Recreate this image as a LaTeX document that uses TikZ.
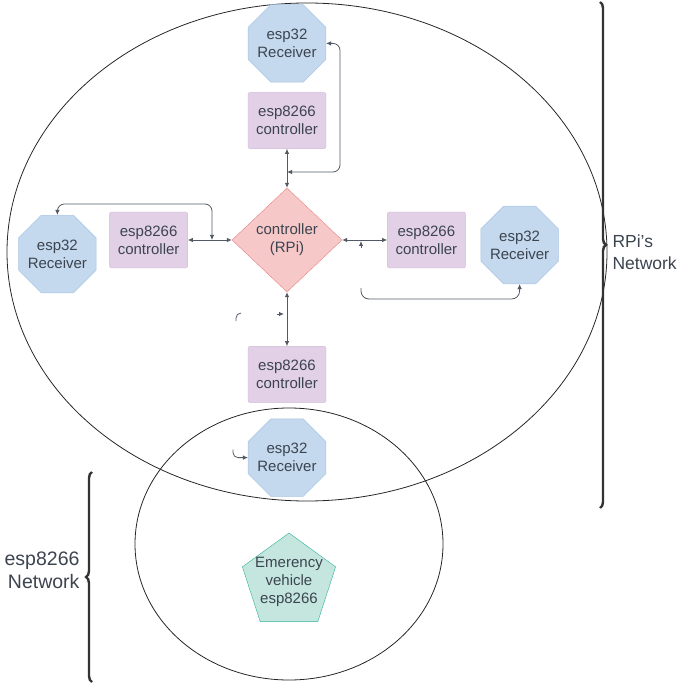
\documentclass[tikz,border=0pt]{standalone}
\usepackage{fontspec}
\setmainfont{Liberation Sans}
\usetikzlibrary{positioning,arrows.meta,shapes.geometric,decorations.pathreplacing}
\definecolor{RecFill}{RGB}{196,216,238}
\definecolor{RecLine}{RGB}{168,196,228}
\definecolor{CtlFill}{RGB}{226,208,230}
\definecolor{CtlLine}{RGB}{206,184,216}
\definecolor{HubFill}{RGB}{246,200,200}
\definecolor{HubLine}{RGB}{236,128,128}
\definecolor{EvFill}{RGB}{196,230,222}
\definecolor{EvLine}{RGB}{46,180,152}
\definecolor{TxtGrey}{RGB}{60,68,80}
\definecolor{LinkGrey}{RGB}{82,90,102}

\begin{document}
\begin{tikzpicture}[x=1pt,y=-1pt,
font=\fontsize{15}{18}\selectfont,text=TxtGrey,
>={Latex[length=5pt,width=4.5pt]},
rec/.style={regular polygon,regular polygon sides=8,minimum size=84pt,inner sep=-12pt,draw=RecLine,fill=RecFill,align=center},
ctl/.style={rectangle,rounded corners=2pt,minimum width=78pt,minimum height=56pt,draw=CtlLine,fill=CtlFill,align=center},
hub/.style={diamond,minimum width=110pt,minimum height=104pt,inner sep=0pt,draw=HubLine,fill=HubFill,align=center},
ev/.style={regular polygon,regular polygon sides=5,minimum size=98pt,inner sep=-18pt,draw=EvLine,fill=EvFill,align=center},
link/.style={draw=LinkGrey,line width=0.8pt},
net/.style={draw=black!85,line width=0.8pt},
brc/.style={decorate,decoration={brace,amplitude=6pt,aspect=#1},line width=2.4pt,draw=black!80}
]
\useasboundingbox (0,0) rectangle (685,700);
% the two networks
\draw[net] (307,252) ellipse[x radius=300,y radius=249];
\draw[net] (289,544) ellipse[x radius=154,y radius=136];
% RPi and its controllers
\node[hub] (rpi) at (287,240) {controller\\(RPi)};
\node[ctl,above=39pt of rpi] (ctlT) {esp8266\\controller};
\node[rec,above=10pt of ctlT] (recT) {esp32\\Receiver};
\node[ctl,left=44pt of rpi] (ctlL) {esp8266\\controller};
\node[rec,left=13pt of ctlL,yshift=-14pt] (recL) {esp32\\Receiver};
\node[ctl,right=45pt of rpi] (ctlR) {esp8266\\controller};
\node[rec,right=15pt of ctlR,yshift=-5pt] (recR) {esp32\\Receiver};
\node[ctl,below=54pt of rpi] (ctlB) {esp8266\\controller};
\node[rec,below=16pt of ctlB] (recB) {esp32\\Receiver};
\node[ev] (veh) at (289,582) {Emerency\\vehicle\\esp8266};
% junctions
\coordinate (tj) at (287,172);
\coordinate (lj) at (212,240);
\coordinate (rj) at (361,241);
\coordinate (rs) at (361,288);
\coordinate (bj) at (284,314);
\coordinate (bs) at (241,313);
% links
\draw[link,<->] (ctlT) -- (rpi);
\draw[link,<->,rounded corners=7pt] (tj) -- ++(53,0) |- (recT.east);
\draw[link,<->] (ctlL) -- (rpi);
\draw[link,<->,rounded corners=7pt] (lj) -- ++(0,-36) -| (recL.north);
\draw[link,<->] (rpi) -- (ctlR);
\draw[link,->] ([yshift=-7pt]rj) -- (rj);
\draw[link,->,rounded corners=8pt] (rs) |- ([yshift=-15pt]recR.south) -- (recR.south);
\draw[link,<->] (rpi) -- (ctlB);
\draw[link,->] ([xshift=-7pt]bj) -- (bj);
\draw[link,rounded corners=5pt] (bs) -| ++(-5,8);
\draw[link,->,rounded corners=5pt] ([xshift=-15pt,yshift=8pt]recB.west) |- (recB.west);
% braces
\draw[brc=0.48] (600,2) -- (600,508);
\node[anchor=west,align=left,font=\fontsize{17.5}{22}\selectfont] (rpinet) at (609,252) {RPi's\\Network};
\draw[brc=0.5] (92,682) -- (92,472);
\node[anchor=east,align=right,font=\fontsize{19.5}{23}\selectfont] (espnet) at (83,570) {esp8266\\Network};
\end{tikzpicture}
\end{document}
